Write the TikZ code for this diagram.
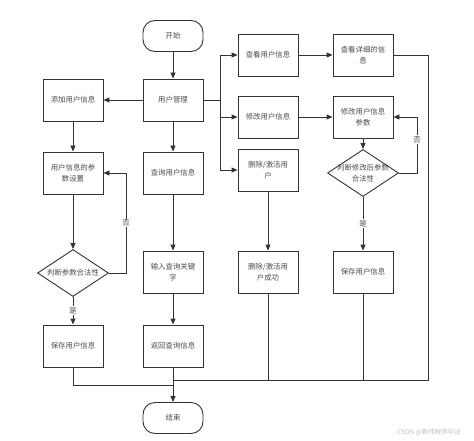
\documentclass[tikz,border=0pt]{standalone}
\usepackage{fontspec}
\setmainfont{Noto Sans CJK SC}
\usetikzlibrary{arrows.meta,shapes.geometric}

\tikzset{
  box/.style={draw=black!80, line width=0.9pt, fill=white, minimum width=60pt,
    minimum height=42pt, align=center, text=black!70, inner sep=1pt},
  term/.style={box, rounded corners=12pt, minimum height=31pt},
  decide/.style={draw=black!80, line width=0.9pt, fill=white, diamond, aspect=1.5,
    minimum width=71pt, minimum height=47pt, inner sep=0pt},
  dtext/.style={align=center, text=black!70, inner sep=0pt},
  arr/.style={draw=black!80, line width=0.9pt, -{Triangle[length=6pt,width=5pt]}},
  ln/.style={draw=black!80, line width=0.9pt},
  tag/.style={fill=white, text=black!70, inner sep=1pt},
}

\begin{document}
\begin{tikzpicture}[x=1pt, y=-1pt, every node/.style={font=\fontsize{7.4}{10.5}\selectfont}]

  \useasboundingbox (0,0) rectangle (474,441);

  %% middle column
  \node[term] (start) at (173,36) {开始};
  \node[box] (mgr) at (173,100) {用户管理};
  \node[box] (query) at (173,173) {查询用户信息};
  \node[box] (input) at (173,272) {输入查询关键\\字};
  \node[box] (ret) at (173,346) {返回查询信息};
  \node[term] (end) at (173,418) {结束};

  %% left column
  \node[box] (add) at (73,100) {添加用户信息};
  \node[box] (param) at (73,173) {用户信息的参\\数设置};
  \node[decide] (chk1) at (73,273) {};
  \node[dtext] (chk1t) at (chk1) {判断参数合法性};
  \node[box] (save1) at (73,346) {保存用户信息};

  %% right columns
  \node[box] (view) at (268,55) {查看用户信息};
  \node[box] (mod) at (268,117) {修改用户信息};
  \node[box] (del) at (268,170) {删除/激活用\\户};
  \node[box] (delok) at (268,272) {删除/激活用\\户成功};
  \node[box] (detail) at (363,55) {查看详细的信\\息};
  \node[box] (modp) at (363,117) {修改用户信息\\参数};
  \node[decide] (chk2) at (363,173) {};
  \node[dtext] (chk2t) at (chk2) {判断修改后参数\\合法性};
  \node[box] (save2) at (363,272) {保存用户信息};

  % helper points
  \coordinate (fork) at (220,100);
  \coordinate (loop1) at (126,273);
  \coordinate (loop2) at (417,173);
  \coordinate (edge) at (428,55);
  \coordinate (join1) at (73,385);
  \coordinate (join2) at (173,380);

  %% connectors
  \draw[arr] (start) -- (mgr);
  \draw[arr] (mgr) -- (add);
  \draw[arr] (mgr) -- (query);
  \draw[ln] (mgr.east) -- (fork);
  \draw[arr] (fork) |- (view.west);
  \draw[arr] (fork) |- (mod.west);
  \draw[arr] (fork) |- (del.west);

  \draw[arr] (add) -- (param);
  \draw[arr] (param) -- (chk1);
  \draw[arr] (chk1) -- node[tag] {是} (save1);
  \draw[arr] (chk1.east) -- (loop1) -- node[tag, pos=0.5] {否} (loop1 |- param.east) -- (param.east);

  \draw[arr] (query) -- (input);
  \draw[arr] (input) -- (ret);
  \draw[arr] (ret) -- (end);

  \draw[arr] (view) -- (detail);
  \draw[arr] (mod) -- (modp);
  \draw[arr] (modp) -- (chk2);
  \draw[arr] (chk2) -- node[tag] {是} (save2);
  \draw[arr] (chk2.east) -- (loop2) -- node[tag, pos=0.6] {否} (loop2 |- modp.east) -- (modp.east);
  \draw[arr] (del) -- (delok);

  %% bottom joins
  \draw[ln] (save1.south) |- (join1 -| join2);
  \draw[ln] (detail.east) -- (edge) |- (join2);
  \draw[ln] (delok.south) -- (delok.south |- join2);
  \draw[ln] (save2.south) -- (save2.south |- join2);

  \node[text=black!25, font=\fontsize{6.5}{8}\selectfont] (mark) at (429,432) {CSDN @新伟程序毕设};

\end{tikzpicture}
\end{document}
